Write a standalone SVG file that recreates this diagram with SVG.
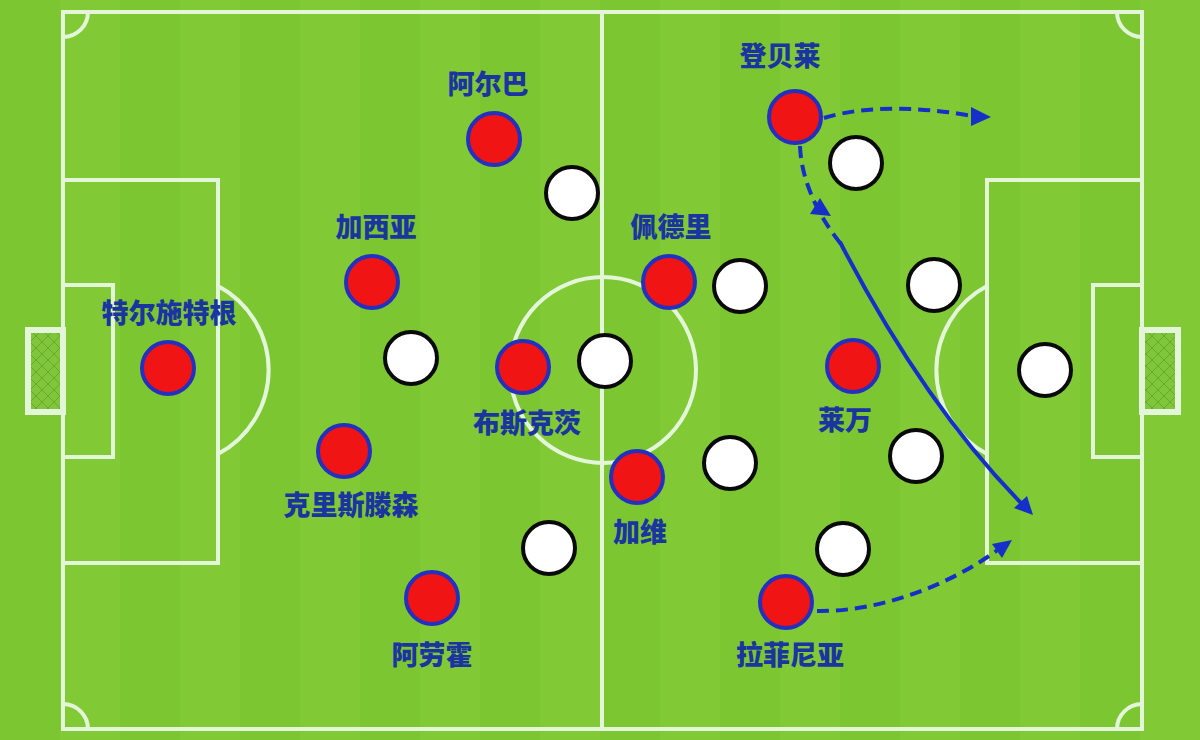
<svg xmlns="http://www.w3.org/2000/svg" width="1200" height="740" viewBox="0 0 1200 740">
<defs>
<pattern id="stripes" x="0" y="0" width="120" height="740" patternUnits="userSpaceOnUse">
<rect x="0" y="0" width="60" height="740" fill="#7cc632"/>
<rect x="60" y="0" width="60" height="740" fill="#81ca36"/>
</pattern>
<pattern id="net" x="0" y="0" width="12" height="12" patternUnits="userSpaceOnUse">
<rect width="12" height="12" fill="#80c63a"/>
<path d="M0,0 L12,12 M12,0 L0,12" stroke="#6aa82c" stroke-width="1"/>
</pattern>
<style>
.line{fill:none;stroke:#e4f6da;stroke-width:4}
.red{fill:#f01414;stroke:#2430c0;stroke-width:4}
.white{fill:#ffffff;stroke:#0a0a0a;stroke-width:4}
.lbl{font-family:"Noto Sans CJK SC","Noto Sans",sans-serif;font-weight:900;font-size:27px;fill:#1a34a0;text-anchor:middle}
.dash{fill:none;stroke:#1530c8;stroke-width:4;stroke-dasharray:12 7}
.solid{fill:none;stroke:#1530c8;stroke-width:4}
.head{fill:#1530c8}
</style>
</defs>
<rect x="0" y="0" width="1200" height="740" fill="url(#stripes)"/>
<g id="pitch">
<rect class="line" x="63" y="12" width="1079" height="717"/>
<line class="line" x1="602" y1="12" x2="602" y2="729"/>
<circle class="line" cx="603" cy="370" r="93"/>
<path class="line" d="M63,37 A25,25 0 0 0 88,12"/>
<path class="line" d="M1117,12 A25,25 0 0 0 1142,37"/>
<path class="line" d="M63,704 A25,25 0 0 1 88,729"/>
<path class="line" d="M1117,729 A25,25 0 0 1 1142,704"/>
<rect class="line" x="63" y="180" width="155" height="383"/>
<rect class="line" x="63" y="285" width="50" height="172"/>
<path class="line" d="M218,286 A95,95 0 0 1 218,454"/>
<rect class="line" x="987" y="180" width="155" height="383"/>
<rect class="line" x="1093" y="285" width="49" height="172"/>
<path class="line" d="M987,286 A95,95 0 0 0 987,454"/>
<rect x="28" y="330" width="35" height="82" fill="url(#net)" stroke="#e4f6da" stroke-width="6"/>
<rect x="1142" y="330" width="36" height="82" fill="url(#net)" stroke="#e4f6da" stroke-width="6"/>
</g>
<g id="connectors">
<path class="dash" d="M824,118 C868,104 930,108 972,116"/>
<polygon class="head" points="991,117 971,107 971,126"/>
<path class="dash" d="M800,146 C801,176 815,212 841,244"/>
<polygon class="head" points="820,198 810,214 831,216"/>
<path class="solid" d="M840,242 C870,300 930,410 1021,503"/>
<polygon class="head" points="1033,515 1014,508 1027,496"/>
<path class="dash" d="M817,611 C880,612 950,585 999,549"/>
<polygon class="head" points="1012,540 1002,558 992,544"/>
</g>
<g id="white-players">
<circle class="white" cx="572" cy="193" r="26"/>
<circle class="white" cx="411" cy="358" r="26"/>
<circle class="white" cx="605" cy="361" r="26"/>
<circle class="white" cx="740" cy="286" r="26"/>
<circle class="white" cx="856" cy="163" r="26"/>
<circle class="white" cx="934" cy="285" r="26"/>
<circle class="white" cx="1045" cy="370" r="26"/>
<circle class="white" cx="916" cy="456" r="26"/>
<circle class="white" cx="730" cy="463" r="26"/>
<circle class="white" cx="549" cy="548" r="26"/>
<circle class="white" cx="843" cy="549" r="26"/>
</g>
<g id="alba"><circle class="red" cx="494" cy="139" r="26"/><text class="lbl" x="488" y="94">阿尔巴</text></g>
<g id="garcia"><circle class="red" cx="372" cy="282" r="26"/><text class="lbl" x="376" y="237">加西亚</text></g>
<g id="terstegen"><circle class="red" cx="168" cy="368" r="26"/><text class="lbl" x="169" y="323">特尔施特根</text></g>
<g id="busquets"><circle class="red" cx="523" cy="367" r="26"/><text class="lbl" x="527" y="433">布斯克茨</text></g>
<g id="christensen"><circle class="red" cx="344" cy="451" r="26"/><text class="lbl" x="351" y="515">克里斯滕森</text></g>
<g id="araujo"><circle class="red" cx="432" cy="598" r="26"/><text class="lbl" x="432" y="665">阿劳霍</text></g>
<g id="pedri"><circle class="red" cx="669" cy="282" r="26"/><text class="lbl" x="671" y="237">佩德里</text></g>
<g id="gavi"><circle class="red" cx="637" cy="477" r="26"/><text class="lbl" x="640" y="542">加维</text></g>
<g id="dembele"><circle class="red" cx="795" cy="117" r="26"/><text class="lbl" x="780" y="66">登贝莱</text></g>
<g id="lewandowski"><circle class="red" cx="853" cy="366" r="26"/><text class="lbl" x="845" y="430">莱万</text></g>
<g id="raphinha"><circle class="red" cx="786" cy="602" r="26"/><text class="lbl" x="790" y="665">拉菲尼亚</text></g>
</svg>
